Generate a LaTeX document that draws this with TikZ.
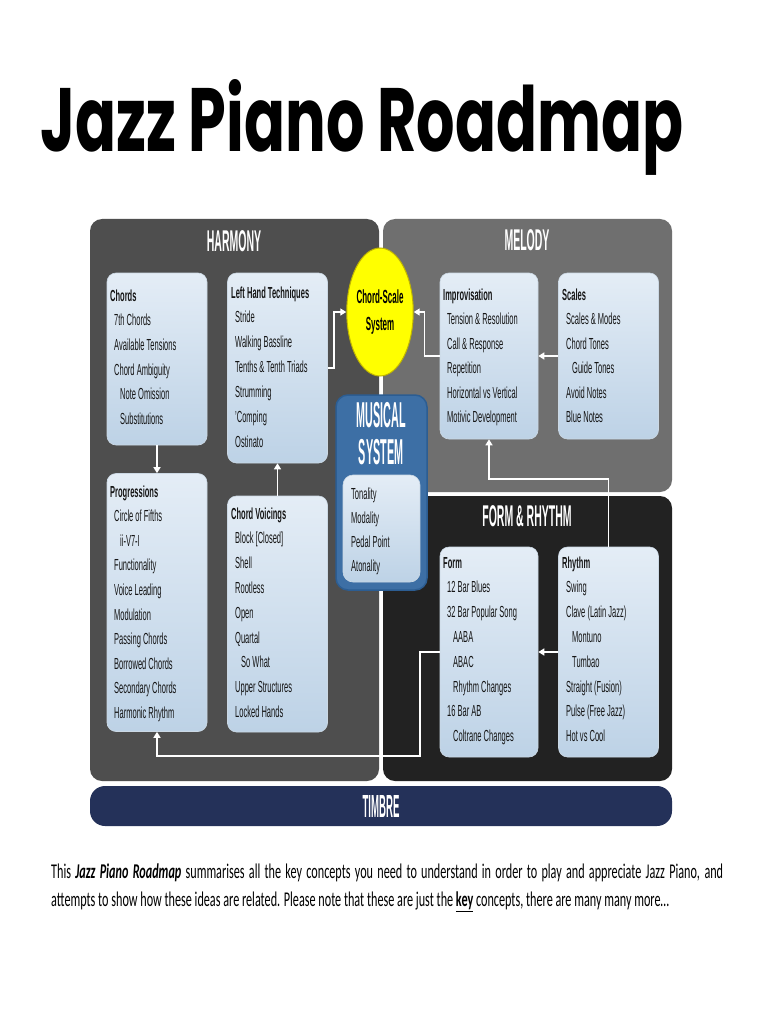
\documentclass[tikz,border=0pt]{standalone}
\usepackage{fontspec}
\usepackage{graphicx}
\setmainfont{Liberation Sans}
\newfontfamily\cnd[FakeStretch=0.47]{Liberation Sans}
\newfontfamily\ttlA[FakeStretch=0.35]{Liberation Sans}
\newfontfamily\ttlB[FakeStretch=0.3]{Liberation Sans}
\newfontfamily\csf[FakeStretch=0.42]{Liberation Sans}
\newfontfamily\ftr[FakeStretch=0.58]{Carlito}
\newfontfamily\ttlfont{Poppins}
\usetikzlibrary{arrows.meta,shapes.geometric,calc}
\definecolor{harm}{HTML}{4E4E4E}
\definecolor{mel}{HTML}{6F6F6F}
\definecolor{frm}{HTML}{222222}
\definecolor{timb}{HTML}{243159}
\definecolor{boxtop}{HTML}{E4EDF6}
\definecolor{boxbot}{HTML}{BDD2E6}
\definecolor{boxedge}{HTML}{CBD8E4}
\definecolor{msfill}{HTML}{3D6FA5}
\definecolor{msedge}{HTML}{2C5D92}
\definecolor{ylw}{HTML}{FFFF00}
\definecolor{ylwedge}{HTML}{BFB400}
\definecolor{txt}{HTML}{151515}
\tikzset{
  panel/.style={rectangle, rounded corners=12pt, inner sep=0pt},
  ptitle/.style={text=white, inner sep=0pt, font=\ttlA\bfseries\fontsize{30}{30}\selectfont},
  bx/.style={rectangle, draw=boxedge, line width=0.6pt, rounded corners=9pt, top color=boxtop, bottom color=boxbot, inner sep=0pt},
  itm/.style={inner sep=0pt, text=txt, font=\cnd\fontsize{16}{16}\selectfont},
  conn/.style={draw=white, line width=1.4pt, -{Triangle[length=6pt,width=7pt]}},
  plain/.style={draw=white, line width=1.4pt},
  ftrs/.style={inner sep=0pt, text=black, font=\ftr\fontsize{21}{21}\selectfont}
}
\newcommand\itemlist[5]{%
  \foreach \l/\t [count=\i] in {#5} {%
    \node[itm, anchor=base west] (#1-\i) at ({#2+\l*(\l+3)}, {#3+(\i-1)*#4}) {\ifnum\l=0 \bfseries\fi\t};
  }%
}
\begin{document}
\begin{tikzpicture}[x=1pt,y=-1pt]
\useasboundingbox (0,0) rectangle (768,1024);
\fill[white] (0,0) rectangle (768,1024);

% title
\node[anchor=base west, inner sep=0pt] (title) at (40,152) {\resizebox{643pt}{72pt}{\ttlfont\bfseries Jazz Piano Roadmap}};

% panels
\node[panel, fill=harm, minimum width=289pt, minimum height=562pt] (harmony) at (234.5,500) {};
\node[panel, fill=mel, minimum width=289pt, minimum height=273pt] (melody) at (527.5,355.5) {};
\node[panel, fill=frm, minimum width=289pt, minimum height=285pt] (form) at (527.5,638.5) {};
\node[panel, fill=timb, rounded corners=15pt, minimum width=582pt, minimum height=40pt,
      text=white, font=\ttlB\bfseries\fontsize{32}{32}\selectfont] (timbre) at (381,806) {TIMBRE};

\node[ptitle] (harmony-t) at (234,241) {HARMONY};
\node[ptitle] (melody-t) at (527,240) {MELODY};
\node[ptitle] (form-t) at (527,516) {FORM \& RHYTHM};

% boxes
\node[bx, minimum width=100pt, minimum height=172pt] (chords) at (157,359) {};
\node[bx, minimum width=100pt, minimum height=190pt] (lht) at (277.5,368) {};
\node[bx, minimum width=100pt, minimum height=258pt] (prog) at (157,602.5) {};
\node[bx, minimum width=100pt, minimum height=236pt] (voic) at (277.5,614) {};
\node[bx, minimum width=98pt, minimum height=166pt] (impr) at (489,356) {};
\node[bx, minimum width=100pt, minimum height=166pt] (scales) at (608.5,356) {};
\node[bx, minimum width=98pt, minimum height=210pt] (formbx) at (489,652) {};
\node[bx, minimum width=100pt, minimum height=210pt] (rhythm) at (608.5,652) {};

\itemlist{chords}{110}{301}{24.7}{0/Chords,1/7th Chords,1/Available Tensions,1/Chord Ambiguity,2/Note Omission,2/Substitutions}
\itemlist{lht}{231}{298}{24.9}{0/Left Hand Techniques,1/Stride,1/Walking Bassline,1/Tenths \& Tenth Triads,1/Strumming,1/\textquoteright Comping,1/Ostinato}
\itemlist{prog}{110}{497}{24.6}{0/Progressions,1/Circle of Fifths,2/ii-V7-I,1/Functionality,1/Voice Leading,1/Modulation,1/Passing Chords,1/Borrowed Chords,1/Secondary Chords,1/Harmonic Rhythm}
\itemlist{voic}{231}{519}{24.8}{0/Chord Voicings,1/Block [Closed],1/Shell,1/Rootless,1/Open,1/Quartal,2/So What,1/Upper Structures,1/Locked Hands}
\itemlist{impr}{443}{300}{24.5}{0/Improvisation,1/Tension \& Resolution,1/Call \& Response,1/Repetition,1/Horizontal vs Vertical,1/Motivic Development}
\itemlist{scales}{562}{300}{24.5}{0/Scales,1/Scales \& Modes,1/Chord Tones,2/Guide Tones,1/Avoid Notes,1/Blue Notes}
\itemlist{formbx}{443}{568}{24.8}{0/Form,1/12 Bar Blues,1/32 Bar Popular Song,2/AABA,2/ABAC,2/Rhythm Changes,1/16 Bar AB,2/Coltrane Changes}
\itemlist{rhythm}{562}{568}{24.8}{0/Rhythm,1/Swing,1/Clave (Latin Jazz),2/Montuno,2/Tumbao,1/Straight (Fusion),1/Pulse (Free Jazz),1/Hot vs Cool}

% chord-scale system
\node[ellipse, fill=ylw, draw=ylwedge, line width=1pt, minimum width=66pt, minimum height=128pt, inner sep=0pt,
      align=center, text=black, font=\csf\bfseries\fontsize{19}{27}\selectfont] (csys) at (380,312) {Chord-Scale\\System};

% musical system
\node[rectangle, rounded corners=12pt, fill=msfill, draw=msedge, line width=1.5pt, minimum width=91pt, minimum height=195pt, inner sep=0pt] (msys) at (381.5,492.5) {};
\node[text=white, inner sep=0pt, align=center, font=\ttlB\bfseries\fontsize{36}{37}\selectfont] (msys-t) at (381,433.5) {MUSICAL\\SYSTEM};
\node[bx, rounded corners=10pt, minimum width=77pt, minimum height=107pt] (msin) at (381.5,528.5) {};
\itemlist{msin}{347}{499}{24}{1/Tonality,1/Modality,1/Pedal Point,1/Atonality}

% connectors
\draw[conn] (chords.south) -- (prog.north);
\draw[conn] (voic.north) -- (lht.south);
\draw[conn] (lht.east) -- ++(6,0) |- (csys.west);
\draw[conn] (impr.west) -- ++(-15,0) |- (csys.east);
\draw[conn] (scales.west) -- (impr.east);
\draw[conn] (rhythm.north) -- (rhythm.north |- 0,479) -| (impr.south);
\draw[conn] (rhythm.west) -- (formbx.west -| formbx.east);
\draw[conn] (formbx.west) -| (420,756) -| (prog.south);
\draw[plain] (msys.south) -- (msys.south |- 0,756);

% footer
\node[ftrs, anchor=base west] (foot1) at (51,878) {\makebox[672pt][s]{This \textbf{\textit{Jazz Piano Roadmap}} summarises all the key concepts you need to understand in order to play and appreciate Jazz Piano, and}};
\node[ftrs, anchor=base west] (foot2) at (51,906) {attempts to show how these ideas are related. Please note that these are just the \textbf{\underline{key}} concepts, there are many many more\dots};
\end{tikzpicture}
\end{document}
